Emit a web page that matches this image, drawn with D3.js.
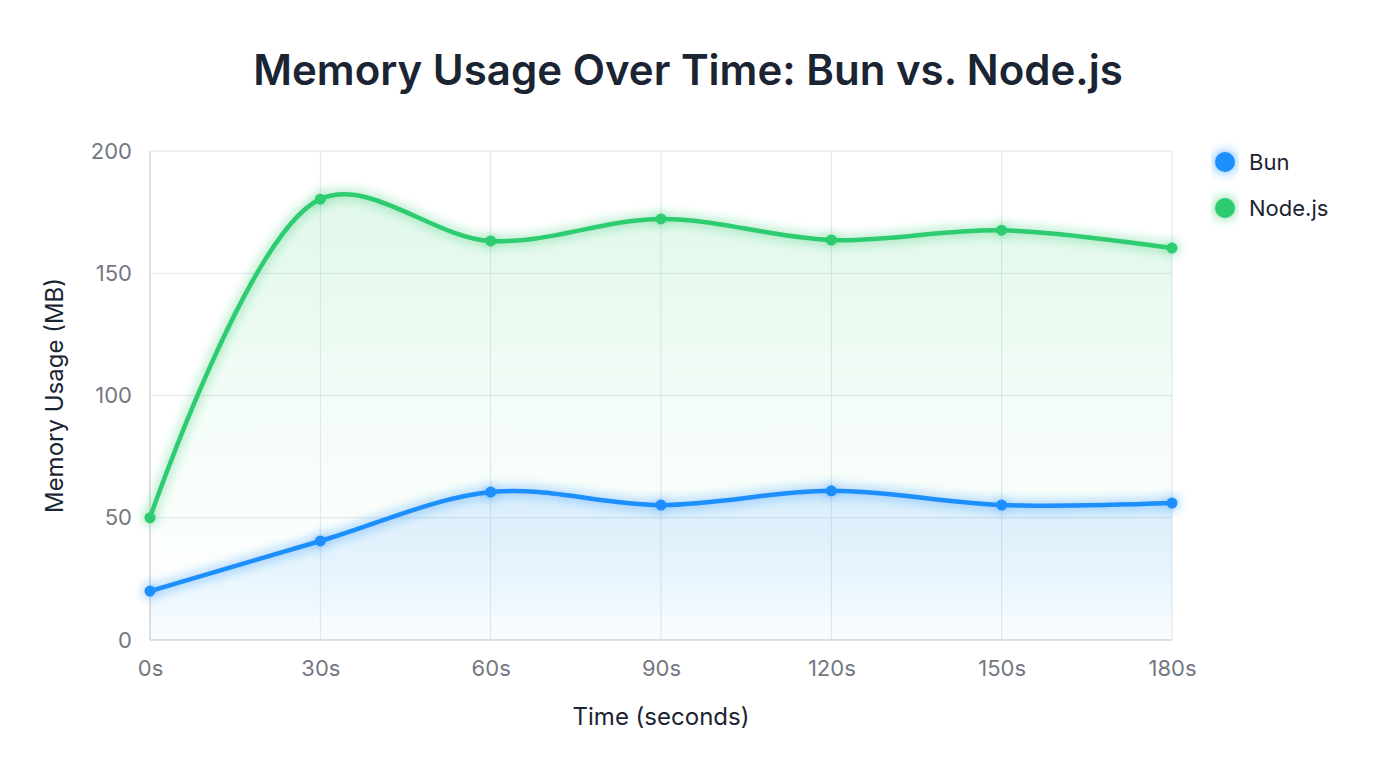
<!DOCTYPE html>
<html>
<head>
<meta charset="utf-8">
<script src="https://cdn.jsdelivr.net/npm/d3@7"></script>
<style>
  body { margin: 0; background: #fff; font-family: Inter, "Noto Sans", sans-serif; }
</style>
</head>
<body>
<svg id="chart"></svg>
<script>
// dữ liệu
const timeLabels = ["0s", "30s", "60s", "90s", "120s", "150s", "180s"];
const bunValues = [20, 40.5, 60.5, 55.2, 61, 55.2, 56];
const nodeValues = [50, 180.3, 163.2, 172.2, 163.6, 167.6, 160.3];
const yTicks = [0, 50, 100, 150, 200];

const series = [
    { name: "Bun", values: bunValues, color: "#1b8ffc", fade: [0.14, 0.1, 0.02] },
    { name: "Node.js", values: nodeValues, color: "#2ecc71", fade: [0.15, 0.05, 0] }
];

const W = 1376, H = 768;
const margin = { top: 151, right: 204, bottom: 128, left: 150 },
      width = W - margin.left - margin.right,
      height = H - margin.top - margin.bottom;

const svg = d3.select("#chart").attr("width", W).attr("height", H);
const defs = svg.append("defs");

// glow filter
const glow = defs.append("filter").attr("id", "glow")
    .attr("x", "-20%").attr("y", "-50%").attr("width", "140%").attr("height", "200%");
glow.append("feGaussianBlur").attr("stdDeviation", 6).attr("result", "b");
glow.append("feComponentTransfer").attr("in", "b").attr("result", "b2")
    .append("feFuncA").attr("type", "linear").attr("slope", 0.8);
const merge = glow.append("feMerge");
merge.append("feMergeNode").attr("in", "b2");
merge.append("feMergeNode").attr("in", "SourceGraphic");

series.forEach((s, i) => {
    const g = defs.append("linearGradient").attr("id", "fill" + i)
        .attr("x1", 0).attr("y1", 0).attr("x2", 0).attr("y2", 1);
    g.append("stop").attr("offset", "0%").attr("stop-color", s.color).attr("stop-opacity", s.fade[0]);
    g.append("stop").attr("offset", "50%").attr("stop-color", s.color).attr("stop-opacity", s.fade[1]);
    g.append("stop").attr("offset", "100%").attr("stop-color", s.color).attr("stop-opacity", s.fade[2]);
});

const g = svg.append("g").attr("transform", `translate(${margin.left},${margin.top})`);

const x = d3.scalePoint().domain(timeLabels).range([0, width]);
const y = d3.scaleLinear().domain([0, 200]).range([height, 0]);

// lưới
g.append("g").selectAll("line").data(yTicks).enter().append("line")
    .attr("x1", 0).attr("x2", width)
    .attr("y1", d => y(d)).attr("y2", d => y(d))
    .attr("stroke", "#e3e5e9").attr("stroke-width", 1);
g.append("g").selectAll("line").data(timeLabels).enter().append("line")
    .attr("x1", d => x(d)).attr("x2", d => x(d))
    .attr("y1", 0).attr("y2", height)
    .attr("stroke", "#e3e5e9").attr("stroke-width", 1);
g.append("line").attr("x1", 0).attr("x2", width).attr("y1", height).attr("y2", height)
    .attr("stroke", "#d6d9de").attr("stroke-width", 1.5);
g.append("line").attr("x1", 0).attr("x2", 0).attr("y1", 0).attr("y2", height)
    .attr("stroke", "#d6d9de").attr("stroke-width", 1.5);

// trục
const yAxis = g.append("g").call(d3.axisLeft(y).tickValues(yTicks).tickSize(0).tickPadding(18));
yAxis.select(".domain").remove();
yAxis.selectAll("text").style("font-size", "22px").style("fill", "#737882")
    .style("font-family", "Inter, sans-serif");

const xAxis = g.append("g").attr("transform", `translate(0,${height})`)
    .call(d3.axisBottom(x).tickSize(0).tickPadding(20));
xAxis.select(".domain").remove();
xAxis.selectAll("text").style("font-size", "22px").style("fill", "#737882")
    .style("font-family", "Inter, sans-serif");

const curve = d3.curveCatmullRom.alpha(0.5);
const line = d3.line().x((d, i) => x(timeLabels[i])).y(d => y(d)).curve(curve);
const area = d3.area().x((d, i) => x(timeLabels[i])).y0(height).y1(d => y(d)).curve(curve);

series.slice().reverse().forEach(s => {
    const i = series.indexOf(s);
    g.append("path").datum(s.values).attr("d", area).attr("fill", `url(#fill${i})`);
});
series.slice().reverse().forEach(s => {
    const sg = g.append("g").attr("filter", "url(#glow)");
    sg.append("path").datum(s.values).attr("d", line)
        .attr("fill", "none").attr("stroke", s.color).attr("stroke-width", 4.5)
        .attr("stroke-linecap", "round");
    sg.selectAll("circle").data(s.values).enter().append("circle")
        .attr("cx", (d, i) => x(timeLabels[i])).attr("cy", d => y(d))
        .attr("r", 5.5).attr("fill", s.color);
});

// tiêu đề
svg.append("text").attr("x", W / 2).attr("y", 85).attr("text-anchor", "middle")
    .style("font-size", "42px").style("font-weight", "600").style("fill", "#1b2433")
    .text("Memory Usage Over Time: Bun vs. Node.js");

svg.append("text").attr("x", margin.left + width / 2).attr("y", 725).attr("text-anchor", "middle")
    .style("font-size", "24px").style("fill", "#1b2433")
    .text("Time (seconds)");

svg.append("text").attr("transform", `translate(63,${margin.top + height / 2}) rotate(-90)`)
    .attr("text-anchor", "middle")
    .style("font-size", "24px").style("fill", "#1b2433")
    .text("Memory Usage (MB)");

// chú giải
const legend = svg.append("g").attr("transform", "translate(1225,162)");
series.forEach((s, i) => {
    const lg = legend.append("g").attr("transform", `translate(0,${i * 46})`);
    lg.append("circle").attr("r", 10).attr("fill", s.color).attr("filter", "url(#glow)");
    lg.append("text").attr("x", 24).attr("y", 8)
        .style("font-size", "22px").style("fill", "#1b2433").text(s.name);
});
</script>
</body>
</html>
